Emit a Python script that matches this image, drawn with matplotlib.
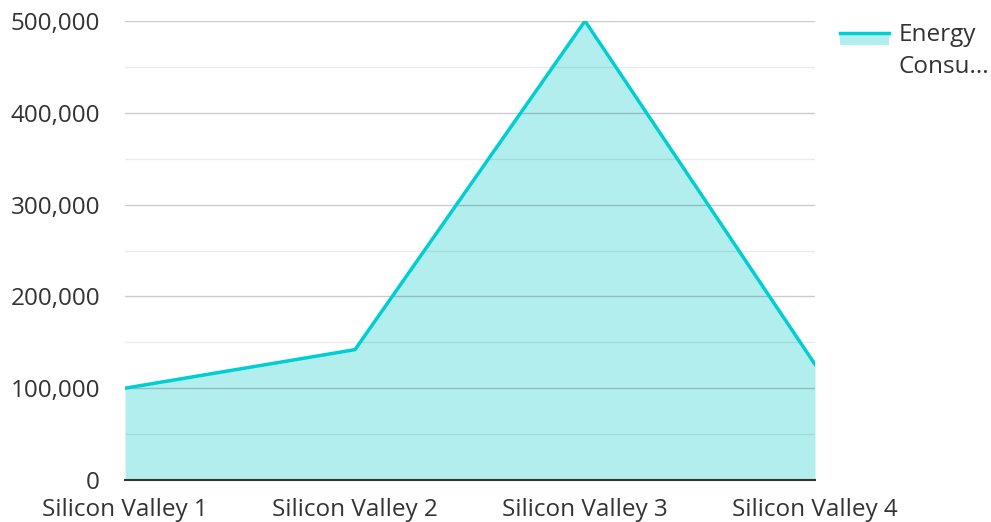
import matplotlib.pyplot as plt
from matplotlib.patches import Patch, Rectangle
from matplotlib.lines import Line2D

plt.rcParams['font.family'] = ['Open Sans', 'DejaVu Sans']

# data
regions = ['Silicon Valley 1', 'Silicon Valley 2', 'Silicon Valley 3', 'Silicon Valley 4']
energy = [100000, 142000, 500000, 126000]
y_ticks = [0, 100000, 200000, 300000, 400000, 500000]
y_labels = ['0', '100,000', '200,000', '300,000', '400,000', '500,000']

line_col = '#00CED1'
fill_col = '#B2EEEE'


class AreaHandler:
    # legend key: light patch with the line along its top, level with first text line
    def legend_artist(self, legend, orig_handle, fontsize, handlebox):
        x0, y0 = handlebox.xdescent, handlebox.ydescent
        w, h = handlebox.width, handlebox.height
        c = y0 + h / 2
        rect = Rectangle((x0, c + 5.0), w, 9.4, facecolor=fill_col, lw=0,
                         transform=handlebox.get_transform())
        ln = Line2D([x0, x0 + w], [c + 13.2, c + 13.2], color=line_col, lw=2.5,
                    transform=handlebox.get_transform())
        handlebox.add_artist(rect)
        handlebox.add_artist(ln)
        return rect


fig = plt.figure(figsize=(9.91, 5.22), dpi=100)
ax = fig.add_axes([125/991, 1-480/522, 690/991, 459/522])

x = list(range(len(regions)))
ax.fill_between(x, energy, 0, color=fill_col, lw=0, zorder=1)
ax.plot(x, energy, color=line_col, lw=2.5, zorder=3, solid_joinstyle='miter')

ax.set_xlim(0, 3)
ax.set_ylim(0, 500000)
ax.set_yticks(y_ticks)
ax.set_yticklabels(y_labels)
ax.set_yticks([50000, 150000, 250000, 350000, 450000], minor=True)
ax.grid(axis='y', which='major', color='black', alpha=0.2, lw=1, zorder=2)
ax.grid(axis='y', which='minor', color='black', alpha=0.08, lw=1, zorder=2)
ax.set_xticks(x)
ax.set_xticklabels(regions)
ax.tick_params(axis='both', which='both', length=0, labelsize=17.5, labelcolor='#333333')
ax.tick_params(axis='y', pad=18)
ax.tick_params(axis='x', pad=13)

for s in ['top', 'right', 'left']:
    ax.spines[s].set_visible(False)
ax.spines['bottom'].set_color('#333333')
ax.spines['bottom'].set_linewidth(1.5)
ax.spines['bottom'].set_zorder(4)

leg = fig.legend([Patch()], ['Energy\nConsu...'], handler_map={Patch: AreaHandler()},
                 loc='upper left', bbox_to_anchor=(840/991, 1-23/522), frameon=False,
                 fontsize=17.5, labelcolor='#333333', handlelength=2.0, handleheight=0.7,
                 handletextpad=0.42, borderpad=0, borderaxespad=0)
for t in leg.get_texts():
    t.set_linespacing(1.45)

fig.savefig('out.png', dpi=100)
